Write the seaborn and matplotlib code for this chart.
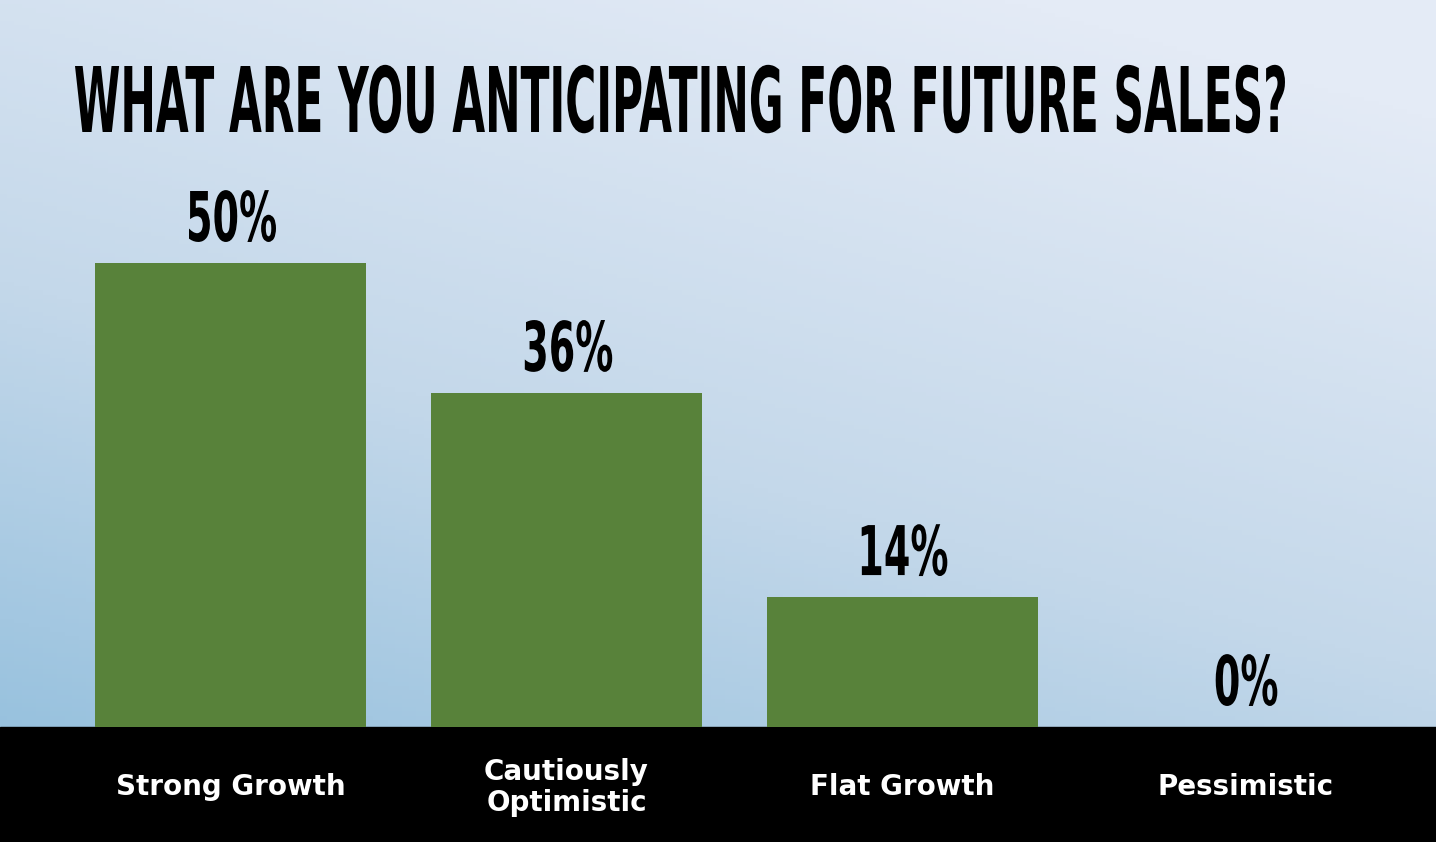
import numpy as np
import pandas as pd
import seaborn as sns
import matplotlib.pyplot as plt
from matplotlib.colors import LinearSegmentedColormap
from matplotlib.textpath import TextPath
from matplotlib.patches import PathPatch
from matplotlib.font_manager import FontProperties
from matplotlib.transforms import Affine2D, IdentityTransform

categories = ['Strong Growth', 'Cautiously\nOptimistic', 'Flat Growth', 'Pessimistic']
values = [50, 36, 14, 0]
value_labels = ['50%', '36%', '14%', '0%']
title = 'WHAT ARE YOU ANTICIPATING FOR FUTURE SALES?'

df = pd.DataFrame({'cat': categories, 'val': values})
W, H = 1436, 842

fig = plt.figure(figsize=(14.36, 8.42), dpi=100)

# gradient background
bg = fig.add_axes([0, 0, 1, 1])
xx, yy = np.meshgrid(np.linspace(0, 1, 200), np.linspace(0, 1, 200))
grad = np.clip(0.75 * yy + 0.35 * xx, 0, 1)
cmap = LinearSegmentedColormap.from_list('bg', ['#8dbcdb', '#c4d8ea', '#e4ebf6'])
bg.imshow(grad, cmap=cmap, origin='lower', extent=[0, 1, 0, 1], aspect='auto')
bg.axis('off')

band_h = 115 / H
bg.add_patch(plt.Rectangle((0, 0), 1, band_h, color='black', transform=bg.transAxes, zorder=5))

ax = fig.add_axes([0, band_h, 1, 1 - band_h])
sns.barplot(data=df, x='cat', y='val', color='#58823a', width=0.806, saturation=1, ax=ax)
ax.set_xlim(-230.5 / 336, 3 + (1436 - 1238.5) / 336)
ax.set_ylim(0, 727 / 9.28)
ax.axis('off')
ax.patch.set_alpha(0)

fp = FontProperties(family='DejaVu Sans', weight='bold')


def condensed(s, x, y_top, cap_h, sx, anchor='left'):
    # draw text as a path squeezed horizontally, in pixel coordinates (top-down y)
    tp = TextPath((0, 0), s, size=100, prop=fp)
    ref = TextPath((0, 0), 'H', size=100, prop=fp).get_extents()
    ext = tp.get_extents()
    k = cap_h / ref.height
    w = ext.width * k * sx
    x0 = x if anchor == 'left' else x - w / 2
    tr = Affine2D().translate(-ext.x0, 0).scale(k * sx, k).translate(x0, H - y_top - cap_h)
    fig.add_artist(PathPatch(tp, transform=tr + IdentityTransform(), color='black', lw=0, zorder=20))
    return w


# title: 75..1285 px wide, cap height ~66 px
tp_w = TextPath((0, 0), title, size=100, prop=fp).get_extents().width
h_ref = TextPath((0, 0), 'H', size=100, prop=fp).get_extents().height
title_sx = 1210 / (tp_w * 66 / h_ref)
condensed(title, 75, 66, 66, title_sx)

# value labels, cap height ~50 px, '50%' ~87 px wide
lw = TextPath((0, 0), '50%', size=100, prop=fp).get_extents().width
lab_sx = 87 / (lw * 50 / h_ref)
for i, lab in enumerate(value_labels):
    px, py = ax.transData.transform((i, values[i]))
    top = H - py - 22 - 50
    cx = px + (2 if i < 3 else 8)
    condensed(lab, cx, top, 50, lab_sx, anchor='center')
    ax.text(i + (0.02 if i == 3 else 0), -6.5, categories[i], ha='center', va='center', fontsize=20,
            fontweight='bold', color='white', linespacing=1.15, clip_on=False, zorder=10)

fig.savefig('out.png', dpi=100)
